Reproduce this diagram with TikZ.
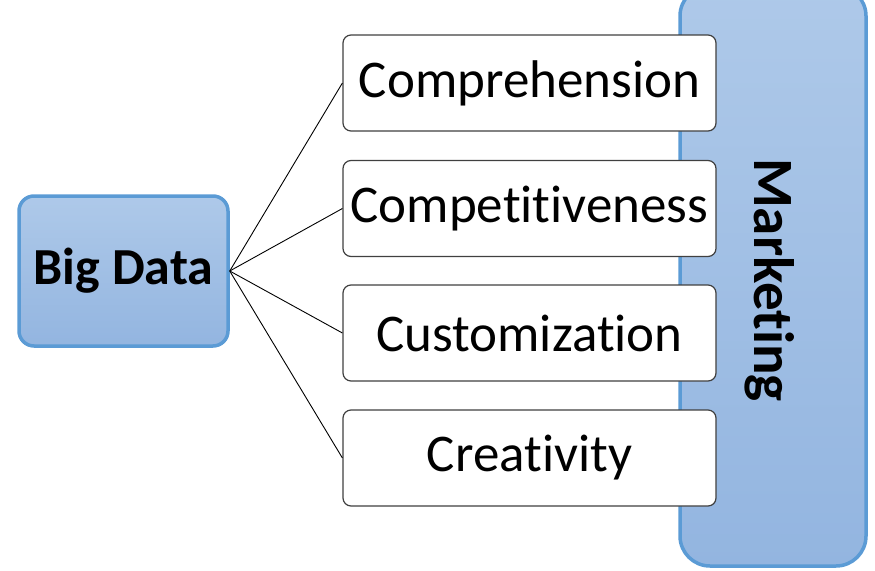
\documentclass[tikz,border=0pt]{standalone}
\usepackage{fontspec}
\setmainfont{Carlito}[Ligatures={NoCommon,NoContextual,NoRequired}]
\definecolor{bluefillT}{HTML}{AEC9E9}
\definecolor{bluefillB}{HTML}{93B5E0}
\definecolor{blueline}{HTML}{5B9BD5}
\definecolor{grayline}{HTML}{404040}
\begin{document}
\begin{tikzpicture}[x=1pt,y=-1pt,
  bluebox/.style={draw=blueline, line width=3.5pt, top color=bluefillT, bottom color=bluefillB, inner sep=0pt},
  itembox/.style={draw=grayline, line width=1.2pt, fill=white, rounded corners=8pt, minimum width=373pt, minimum height=96pt, inner sep=0pt, font=\fontsize{53}{60}\selectfont},
  link/.style={draw=black, line width=0.9pt}
]
\useasboundingbox (0,0) rectangle (875,570);
% Marketing box
\node[bluebox, rounded corners=30pt, minimum width=186pt, minimum height=580pt] (mk) at (773,276) {};
\node[rotate=-90, font=\fontsize{57}{64}\selectfont\bfseries] (mkt) at (770,280) {Marketing};
% Big Data box
\node[bluebox, rounded corners=15pt, minimum width=209pt, minimum height=150pt, font=\fontsize{52}{60}\selectfont\bfseries] (bd) at (123.5,271) {Big Data};
% items
\node[itembox] (c1) at (529.5,83) {Comprehension};
\node[itembox] (c2) at (529.5,208.5) {Competitiveness};
\node[itembox] (c3) at (529.5,333) {Customization};
\node[itembox] (c4) at (529.5,458) {Creativity};
\draw[link] (bd.east) -- (c1.west);
\draw[link] (bd.east) -- (c2.west);
\draw[link] (bd.east) -- (c3.west);
\draw[link] (bd.east) -- (c4.west);
\end{tikzpicture}
\end{document}
